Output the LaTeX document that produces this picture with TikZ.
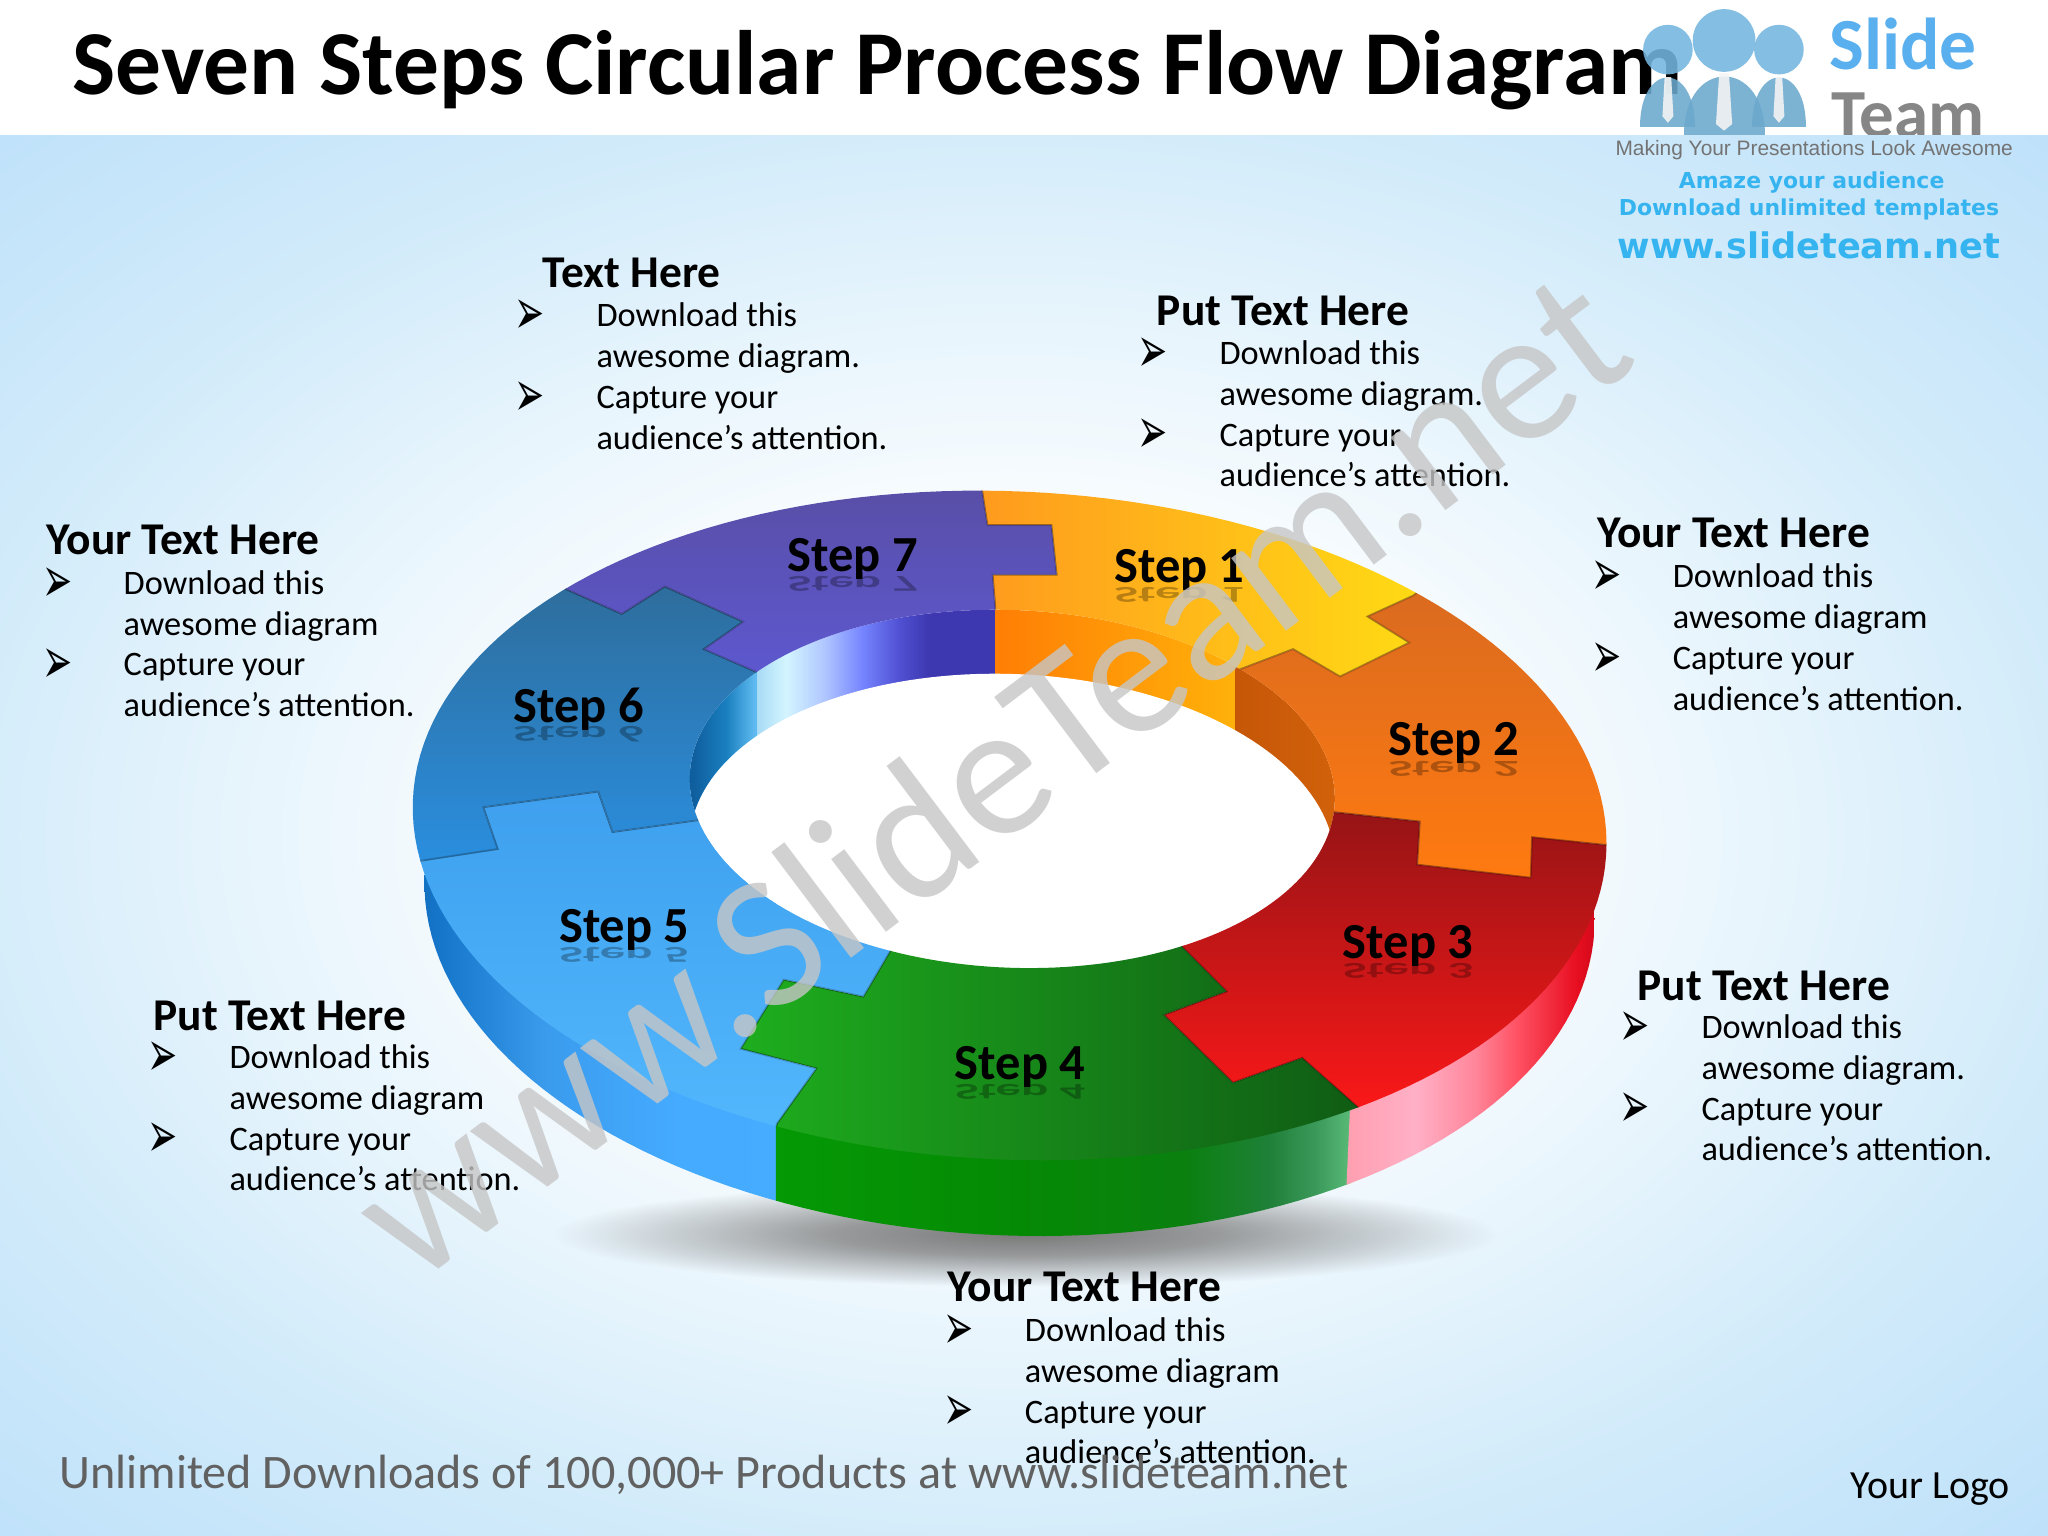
\documentclass[tikz,border=0pt]{standalone}
\usepackage{fontspec}
\setmainfont{Carlito}
\newfontfamily\bulletfont{DejaVu Sans}
\newfontfamily\logoarial{Liberation Sans}
\newfontfamily\logowide{DejaVu Sans}
\usetikzlibrary{positioning,fadings}

\definecolor{logoblue}{HTML}{5AB0EE}
\definecolor{logogray}{HTML}{868686}
\definecolor{logocyan}{HTML}{35B4F0}
\definecolor{personblue}{HTML}{74B6DE}

\pgfdeclareradialshading{shadowball}{\pgfpointorigin}{gray(0bp)=(1); gray(10bp)=(.75); gray(25bp)=(0); gray(50bp)=(0)}
\pgfdeclarefading{shadowfade}{\pgfuseshading{shadowball}}
\pgfdeclareradialshading{pagewash}{\pgfpointorigin}{rgb(0bp)=(1,1,1); rgb(9bp)=(1,1,1); rgb(18bp)=(.91,.96,.99); rgb(26bp)=(.82,.92,.98); rgb(36bp)=(.74,.88,.98); rgb(50bp)=(.74,.88,.98)}
\pgfdeclarehorizontalshading{wallsix}{100bp}{rgb(0bp)=(.05,.35,.60); rgb(25bp)=(.05,.35,.60); rgb(34bp)=(.06,.37,.62); rgb(55bp)=(.10,.50,.75); rgb(73bp)=(.37,.73,.94); rgb(100bp)=(.37,.73,.94)}
\pgfdeclarehorizontalshading{wallseven}{100bp}{rgb(0bp)=(.66,.86,.96); rgb(25bp)=(.66,.86,.96); rgb(31bp)=(.83,.96,1); rgb(39bp)=(.69,.78,1); rgb(47bp)=(.46,.52,1); rgb(55bp)=(.31,.31,.82); rgb(61bp)=(.24,.22,.69); rgb(100bp)=(.24,.22,.69)}
\pgfdeclarehorizontalshading{sideblue}{100bp}{rgb(0bp)=(.05,.40,.71); rgb(25bp)=(.05,.40,.71); rgb(32bp)=(.09,.47,.80); rgb(45bp)=(.23,.61,.93); rgb(62bp)=(.27,.67,1); rgb(100bp)=(.28,.68,1)}
\pgfdeclarehorizontalshading{sidegreen}{100bp}{rgb(0bp)=(.02,.60,.02); rgb(25bp)=(.02,.60,.02); rgb(46bp)=(.02,.54,.02); rgb(60bp)=(.04,.50,.06); rgb(67bp)=(.12,.50,.22); rgb(71bp)=(.23,.60,.35); rgb(74bp)=(.35,.73,.47); rgb(100bp)=(.35,.73,.47)}
\pgfdeclarehorizontalshading{sidepink}{100bp}{rgb(0bp)=(1,.62,.69); rgb(25bp)=(1,.62,.69); rgb(38bp)=(1,.69,.78); rgb(49bp)=(1,.52,.60); rgb(56bp)=(1,.33,.40); rgb(67bp)=(.91,.06,.13); rgb(75bp)=(.72,0,.06); rgb(100bp)=(.72,0,.06)}

% tilted ellipses of the ring: centre x, centre y, x radius, y radius
\newcommand{\ringloop}[4]{plot[domain=0:360,samples=180] ({#1+#3*cos(\x)},{#2+#4*sin(\x)+.03*#3*cos(\x)}) -- cycle}
\newcommand{\ringouter}{\ringloop{773}{632}{457}{256}}
\newcommand{\ringlower}{\ringloop{773}{690}{448}{256}}
\newcommand{\ringrim}{\ringloop{775}{604}{247}{137}}
\newcommand{\ringfloor}{\ringloop{775}{653}{247}{137}}
\newcommand{\pagewash}{\shade[shading=pagewash] (-27,100) rectangle (1573,1180);}
\newcommand{\bulletmark}{\makebox[.59cm][l]{\hspace*{-1pt}\smash{\raisebox{-1.7pt}{\scalebox{1.05}[1.9]{\bulletfont\char"27A2}}}}}
\newcommand{\bullettext}[1]{\bulletmark Download this\\\hspace*{.59cm}awesome diagram#1\\\bulletmark Capture your\\\hspace*{.59cm}audience’s attention.}
% head, body and tie of one logo figure: x, head y, head radius, body top, body bottom, half width
\newcommand{\logoperson}[6]{
  \fill[personblue] (#1,#2) circle [radius=#3];
  \fill[personblue!92!black] (#1-#6,#5) .. controls (#1-#6,#4-12) and (#1+#6,#4-12) .. (#1+#6,#5) -- cycle;
  \fill[white!92!gray] (#1-.12*#6,#4) -- (#1+.12*#6,#4) -- (#1+.2*#6,#5-8) -- (#1,#5-3) -- (#1-.2*#6,#5-8) -- cycle;
}

\tikzstyle{piece} = [draw=black, draw opacity=.2, line width=.4pt]
\tikzstyle{titletext} = [font=\fontsize{19.9}{23}\selectfont\bfseries, anchor=west, inner sep=0pt]
\tikzstyle{headtext} = [font=\fontsize{9.9}{11}\selectfont\bfseries, anchor=west, inner sep=0pt]
\tikzstyle{bodytext} = [font=\fontsize{7.47}{8.9}\selectfont, align=left, anchor=north west, inner sep=0pt]
\tikzstyle{steplabel} = [font=\fontsize{11}{13}\selectfont\bfseries, inner sep=0pt]
\tikzstyle{stepmirror} = [font=\fontsize{11}{13}\selectfont\bfseries, inner sep=0pt, opacity=.28]
\tikzstyle{watermark} = [font=\fontsize{41.5}{50}\selectfont, text=gray!45, text opacity=.8, rotate=37, inner sep=0pt]
\tikzstyle{footertext} = [font=\fontsize{10.47}{12}\selectfont, text=black!62, anchor=west, inner sep=0pt]

\begin{document}
\begin{tikzpicture}[x=.01cm, y=-.01cm]
    \useasboundingbox (0,0) rectangle (1568,1176);
    \fill[white] (0,0) rectangle (1568,1176);

    % Title and logo
    \node [titletext] (title) at (55,54) {Seven Steps Circular Process Flow Diagram};
    \begin{scope}[opacity=.88]
      \logoperson{1277}{38}{19}{59}{97}{21}
      \logoperson{1362}{38}{19}{59}{97}{21}
      \logoperson{1320}{31}{24}{56}{103}{31}
    \end{scope}
    \node [font=\fontsize{16}{18}\selectfont\bfseries, text=logoblue, inner sep=0pt] (logo-slide) at (1457,34) {Slide};
    \node [font=\fontsize{15}{17}\selectfont\bfseries, text=logogray, inner sep=0pt] (logo-team) at (1461,88) {Team};

    % Page background
    \begin{scope}
      \clip (0,104) rectangle (1568,1176);
      \pagewash
    \end{scope}
    \node [font=\logoarial\fontsize{4.55}{6}\selectfont, text=black!55, inner sep=0pt] (logo-making) at (1389,115) {Making Your Presentations Look Awesome};
    \node [font=\logowide\fontsize{4.78}{6}\selectfont\bfseries, text=logocyan, inner sep=0pt] (logo-amaze) at (1387,140) {Amaze your audience};
    \node [font=\logowide\fontsize{4.78}{6}\selectfont\bfseries, text=logocyan, inner sep=0pt] (logo-download) at (1385,160) {Download unlimited templates};
    \node [font=\logowide\fontsize{7.66}{9}\selectfont\bfseries, text=logocyan, inner sep=0pt] (logo-web) at (1385,188) {www.slideteam.net};

    % Shadow under the ring
    \fill[black!52, path fading=shadowfade] (425,905) rectangle (1145,985);

    % Outer side of the ring
    \begin{scope}
      \clip \ringlower;
      \shade[shading=sideblue] (300,640) rectangle (594,960);
      \shade[shading=sidegreen] (594,830) -- (1043,830) -- (1029,950) -- (594,950) -- cycle;
      \shade[shading=sidepink] (1043,640) -- (1240,640) -- (1240,950) -- (1029,950) -- cycle;
    \end{scope}

    % Inner wall and the hole
    \begin{scope}
      \clip \ringrim;
      \shade[shading=wallsix] (520,440) rectangle (580,680);
      \shade[shading=wallseven] (580,440) rectangle (762,680);
      \shade[left color={rgb,255:red,255;green,126;blue,5}, right color={rgb,255:red,255;green,177;blue,10}] (762,440) rectangle (946,680);
      \shade[left color={rgb,255:red,198;green,87;blue,8}, right color={rgb,255:red,210;green,98;blue,10}] (946,440) rectangle (1030,680);
      \begin{scope}
        \clip \ringfloor;
        \pagewash
      \end{scope}
    \end{scope}

    % Top face of the seven pieces
    \begin{scope}[even odd rule]
      \clip \ringouter \ringrim;
      \path[piece, left color={rgb,255:red,255;green,154;blue,30}, right color={rgb,255:red,255;green,220;blue,20}] (750,360) -- (752,376) -- (756,402) -- (805,402) -- (809,440) -- (760,440) -- (762,465) -- (762,490) -- (930,525) -- (948,513) -- (990,497) -- (1026,518) -- (1079,492) -- (1047,472) -- (1082,456) -- (1095,446) -- (1095,360) -- cycle;
      \path[piece, top color={rgb,255:red,217;green,106;blue,32}, bottom color={rgb,255:red,255;green,122;blue,16}] (1095,446) -- (1082,456) -- (1047,472) -- (1079,492) -- (1026,518) -- (990,497) -- (948,513) -- (930,525) -- (1000,620) -- (1023,622) -- (1087,629) -- (1085,662) -- (1172,672) -- (1173,641) -- (1230,647) -- (1250,650) -- (1250,446) -- cycle;
      \path[piece, top color={rgb,255:red,150;green,20;blue,22}, middle color={rgb,255:red,245;green,24;blue,24}, bottom color={rgb,255:red,255;green,24;blue,24}] (1250,650) -- (1230,647) -- (1173,641) -- (1172,672) -- (1085,662) -- (1087,629) -- (1023,622) -- (1000,620) -- (890,706) -- (906,726) -- (939,759) -- (891,777) -- (944,829) -- (997,810) -- (1041,849) -- (1050,860) -- (1250,860) -- cycle;
      \path[piece, left color={rgb,255:red,30;green,174;blue,30}, right color={rgb,255:red,15;green,90;blue,20}] (1050,860) -- (1041,849) -- (997,810) -- (944,829) -- (891,777) -- (939,759) -- (906,726) -- (890,706) -- (695,705) -- (681,729) -- (661,763) -- (600,750) -- (567,803) -- (625,818) -- (595,860) -- (590,875) -- (590,960) -- (1050,960) -- cycle;
      \path[piece, top color={rgb,255:red,62;green,160;blue,238}, bottom color={rgb,255:red,85;green,186;blue,255}] (590,875) -- (595,860) -- (625,818) -- (567,803) -- (600,750) -- (661,763) -- (681,729) -- (695,705) -- (560,623) -- (534,628) -- (469,637) -- (458,606) -- (370,618) -- (381,650) -- (322,659) -- (300,664) -- (300,900) -- cycle;
      \path[piece, top color={rgb,255:red,46;green,108;blue,154}, bottom color={rgb,255:red,42;green,143;blue,224}] (300,664) -- (322,659) -- (381,650) -- (370,618) -- (458,606) -- (469,637) -- (534,628) -- (560,623) -- (600,525) -- (578,514) -- (539,497) -- (569,476) -- (509,449) -- (476,470) -- (431,450) -- (420,440) -- (300,440) -- cycle;
      \path[piece, top color={rgb,255:red,88;green,78;blue,163}, bottom color={rgb,255:red,94;green,88;blue,210}] (420,440) -- (431,450) -- (476,470) -- (509,449) -- (569,476) -- (539,497) -- (578,514) -- (600,525) -- (762,490) -- (762,465) -- (760,440) -- (809,440) -- (805,402) -- (756,402) -- (752,376) -- (750,360) -- (420,360) -- cycle;
    \end{scope}

    % Place step labels
    \node [stepmirror] (mirror-seven) at (653,446) {\scalebox{1}[-.45]{Step 7}};
    \node [stepmirror] (mirror-one) at (903,454) {\scalebox{1}[-.45]{Step 1}};
    \node [stepmirror] (mirror-two) at (1113,587) {\scalebox{1}[-.45]{Step 2}};
    \node [stepmirror] (mirror-three) at (1078,742) {\scalebox{1}[-.45]{Step 3}};
    \node [stepmirror] (mirror-four) at (781,835) {\scalebox{1}[-.45]{Step 4}};
    \node [stepmirror] (mirror-five) at (478,730) {\scalebox{1}[-.45]{Step 5}};
    \node [stepmirror] (mirror-six) at (443,561) {\scalebox{1}[-.45]{Step 6}};
    \node [steplabel] (step-seven) at (653,428) {Step 7};
    \node [steplabel] (step-one) at (903,436) {Step 1};
    \node [steplabel] (step-two) at (1113,569) {Step 2};
    \node [steplabel] (step-three) at (1078,724) {Step 3};
    \node [steplabel] (step-four) at (781,817) {Step 4};
    \node [steplabel] (step-five) at (478,712) {Step 5};
    \node [steplabel] (step-six) at (443,543) {Step 6};

    % Place text blocks
    \node [headtext] (head-seven) at (415,209) {Text Here};
    \node [bodytext] (body-seven) at (397,231) {\bullettext{.}};
    \node [headtext] (head-one) at (885,238) {Put Text Here};
    \node [bodytext] (body-one) at (874,260) {\bullettext{.}};
    \node [headtext] (head-six) at (35,413) {Your Text Here};
    \node [bodytext] (body-six) at (35,436) {\bullettext{}};
    \node [headtext] (head-two) at (1222,408) {Your Text Here};
    \node [bodytext] (body-two) at (1221,431) {\bullettext{}};
    \node [headtext] (head-three) at (1253,755) {Put Text Here};
    \node [bodytext] (body-three) at (1243,776) {\bullettext{.}};
    \node [headtext] (head-five) at (117,778) {Put Text Here};
    \node [bodytext] (body-five) at (116,799) {\bullettext{}};
    \node [headtext] (head-four) at (725,985) {Your Text Here};
    \node [bodytext] (body-four) at (725,1008) {\bullettext{}};

    % Footer and watermark
    \node [footertext] (footer) at (45,1129) {Unlimited Downloads of 100,000+ Products at www.slideteam.net};
    \node [font=\fontsize{8.7}{10}\selectfont, inner sep=0pt] (your-logo) at (1478,1140) {Your Logo};
    \node [watermark] (watermark-text) at (757,592) {www.SlideTeam.net};
\end{tikzpicture}
\end{document}
